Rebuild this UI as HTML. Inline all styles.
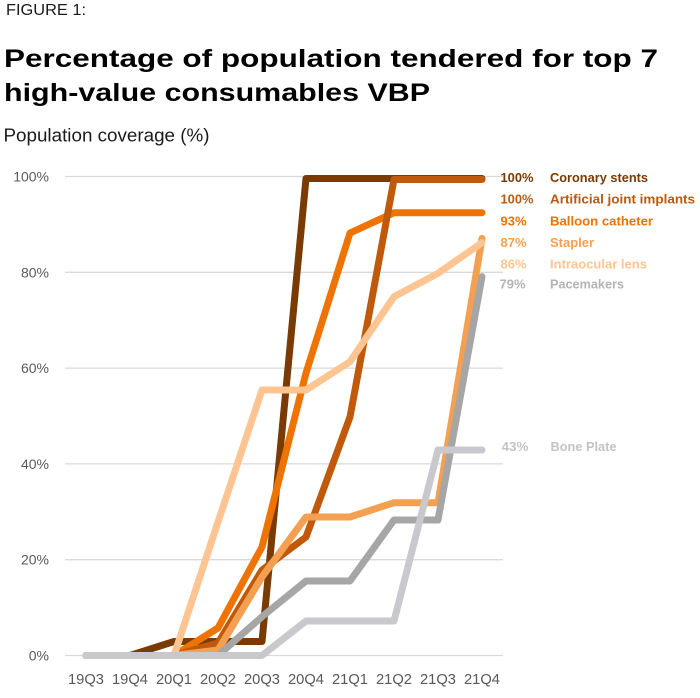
<!DOCTYPE html>
<html>
<head>
<meta charset="utf-8">
<style>
  html,body{margin:0;padding:0;background:#fff;}
  svg{display:block;}
  text{font-family:"Liberation Sans", sans-serif;}
</style>
</head>
<body>
<svg width="700" height="698" viewBox="0 0 700 698" xmlns="http://www.w3.org/2000/svg">
  <rect width="700" height="698" fill="#fff"/>
  <!-- Header -->
  <text x="6" y="15" font-size="15.5" fill="#1a1a1a" textLength="80" lengthAdjust="spacingAndGlyphs">FIGURE 1:</text>
  <text x="4" y="67" font-size="25" font-weight="bold" fill="#000" textLength="654" lengthAdjust="spacingAndGlyphs">Percentage of population tendered for top 7</text>
  <text x="4" y="101" font-size="25" font-weight="bold" fill="#000" textLength="426" lengthAdjust="spacingAndGlyphs">high-value consumables VBP</text>
  <text x="3.5" y="141.5" font-size="18" fill="#1a1a1a" textLength="206" lengthAdjust="spacingAndGlyphs">Population coverage (%)</text>

  <!-- Gridlines -->
  <g stroke="#d9d9d9" stroke-width="1.3">
    <line x1="65" y1="176.5" x2="503" y2="176.5"/>
    <line x1="65" y1="272.3" x2="503" y2="272.3"/>
    <line x1="65" y1="368.1" x2="503" y2="368.1"/>
    <line x1="65" y1="463.9" x2="503" y2="463.9"/>
    <line x1="65" y1="559.7" x2="503" y2="559.7"/>
    <line x1="65" y1="655.5" x2="503" y2="655.5"/>
  </g>

  <!-- Y axis labels -->
  <g font-size="14" fill="#595959" text-anchor="end">
    <text x="49" y="181.5">100%</text>
    <text x="49" y="277.3">80%</text>
    <text x="49" y="373.1">60%</text>
    <text x="49" y="468.9">40%</text>
    <text x="49" y="564.7">20%</text>
    <text x="49" y="660.5">0%</text>
  </g>

  <!-- X axis labels -->
  <g font-size="15" fill="#595959" text-anchor="middle">
    <text x="86" y="684" textLength="36" lengthAdjust="spacingAndGlyphs">19Q3</text>
    <text x="130" y="684" textLength="36" lengthAdjust="spacingAndGlyphs">19Q4</text>
    <text x="174" y="684" textLength="36" lengthAdjust="spacingAndGlyphs">20Q1</text>
    <text x="218" y="684" textLength="36" lengthAdjust="spacingAndGlyphs">20Q2</text>
    <text x="262" y="684" textLength="36" lengthAdjust="spacingAndGlyphs">20Q3</text>
    <text x="306" y="684" textLength="36" lengthAdjust="spacingAndGlyphs">20Q4</text>
    <text x="350" y="684" textLength="36" lengthAdjust="spacingAndGlyphs">21Q1</text>
    <text x="394" y="684" textLength="36" lengthAdjust="spacingAndGlyphs">21Q2</text>
    <text x="438" y="684" textLength="36" lengthAdjust="spacingAndGlyphs">21Q3</text>
    <text x="482" y="684" textLength="36" lengthAdjust="spacingAndGlyphs">21Q4</text>
  </g>

  <!-- Series -->
  <g fill="none" stroke-width="7" stroke-linecap="round" stroke-linejoin="round">
    <!-- Coronary stents -->
    <polyline stroke="#7a3a03" points="86,655.5 130,655.5 174,641.5 218,641.5 262,641.5 306,178.5 350,178.5 394,178.5 438,178.5 482,178.5"/>
    <!-- Balloon catheter -->
    <polyline stroke="#ee7300" points="86,655.5 130,655.5 174,655.5 218,628 262,547 306,373 350,233 394,212.7 438,212.7 482,212.7"/>
    <!-- Artificial joint implants -->
    <polyline stroke="#c05a0a" points="86,655.5 130,655.5 174,655.5 218,643 262,570 306,537 350,417 394,179.5 438,179.5 482,179.5"/>
    <!-- Stapler -->
    <polyline stroke="#f3a052" points="86,655.5 130,655.5 174,655.5 218,650 262,577 306,517 350,517 394,502.7 438,502.7 482,238.5"/>
    <!-- Intraocular lens -->
    <polyline stroke="#fec592" points="86,655.5 130,655.5 174,655.5 218,522 262,390 306,390 350,361.7 394,296.7 438,273.3 482,242.7"/>
    <!-- Pacemakers -->
    <polyline stroke="#a6a6a6" points="86,655.5 130,655.5 174,655.5 218,655.5 262,616.7 306,581 350,581 394,520 438,520 482,276.7"/>
    <!-- Bone plate -->
    <polyline stroke="#c9c9cd" points="86,655.5 130,655.5 174,655.5 218,655.5 262,655.5 306,621 350,621 394,621 438,450 482,450"/>
  </g>

  <!-- Right labels -->
  <g font-size="13" font-weight="bold">
    <text x="500.5" y="182" fill="#7a3a03" textLength="33" lengthAdjust="spacingAndGlyphs">100%</text>
    <text x="550" y="182" fill="#7a3a03" textLength="98" lengthAdjust="spacingAndGlyphs">Coronary stents</text>

    <text x="500.5" y="203.5" fill="#b85a0f" textLength="33" lengthAdjust="spacingAndGlyphs">100%</text>
    <text x="550" y="203.5" fill="#b85a0f" textLength="145" lengthAdjust="spacingAndGlyphs">Artificial joint implants</text>

    <text x="500.5" y="225.5" fill="#ee7300" textLength="26" lengthAdjust="spacingAndGlyphs">93%</text>
    <text x="550" y="225.5" fill="#ee7300" textLength="103" lengthAdjust="spacingAndGlyphs">Balloon catheter</text>

    <text x="500.5" y="247" fill="#f3a052" textLength="26" lengthAdjust="spacingAndGlyphs">87%</text>
    <text x="550" y="247" fill="#f3a052" textLength="44" lengthAdjust="spacingAndGlyphs">Stapler</text>

    <text x="500.5" y="268.5" fill="#fec592" textLength="26" lengthAdjust="spacingAndGlyphs">86%</text>
    <text x="550" y="268.5" fill="#fec592" textLength="97" lengthAdjust="spacingAndGlyphs">Intraocular lens</text>

    <text x="499.5" y="288.5" fill="#b4b4b4" textLength="26" lengthAdjust="spacingAndGlyphs">79%</text>
    <text x="550" y="288.5" fill="#b4b4b4" textLength="74" lengthAdjust="spacingAndGlyphs">Pacemakers</text>

    <text x="501.5" y="451" fill="#c4c4c6" textLength="27" lengthAdjust="spacingAndGlyphs">43%</text>
    <text x="550.5" y="451" fill="#c4c4c6" textLength="66" lengthAdjust="spacingAndGlyphs">Bone Plate</text>
  </g>
</svg>
</body>
</html>
